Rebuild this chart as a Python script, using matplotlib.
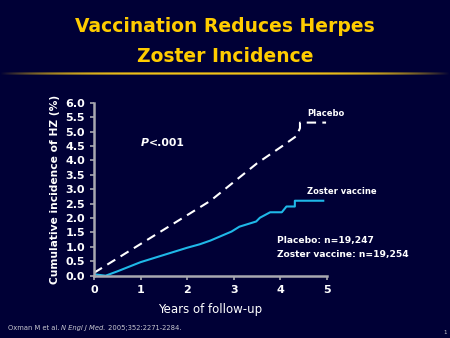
import numpy as np
import matplotlib
matplotlib.use('Agg')
import matplotlib.pyplot as plt

# Kaplan-Meier style cumulative incidence
placebo_years = [0, 0.5, 1, 1.5, 2, 2.5, 3, 3.5, 4, 4.35, 4.42, 4.42, 4.98]
placebo_pct = [0.1, 0.6, 1.1, 1.6, 2.1, 2.6, 3.25, 3.9, 4.45, 4.85, 5.12, 5.31, 5.31]

vaccine_years = [0, 0.25, 0.5, 1, 1.5, 2, 2.27, 2.5, 2.95, 3.12, 3.48, 3.56,
                 3.78, 4.03, 4.13, 4.31, 4.31, 4.92]
vaccine_pct = [0.05, 0.0, 0.15, 0.47, 0.72, 0.97, 1.09, 1.22, 1.53, 1.70, 1.88,
               2.01, 2.2, 2.2, 2.4, 2.4, 2.6, 2.6]

x_ticks = [0, 1, 2, 3, 4, 5]
y_ticks = [0.0, 0.5, 1.0, 1.5, 2.0, 2.5, 3.0, 3.5, 4.0, 4.5, 5.0, 5.5, 6.0]

bg = '#000036'
gold = '#ffcc00'
axis_gray = '#a8a8b0'
cyan = '#1fb8e8'

fig = plt.figure(figsize=(4.5, 3.38), dpi=100, facecolor=bg)

# title
fig.text(0.5, 1 - 27 / 338, 'Vaccination Reduces Herpes', ha='center', va='center',
         color=gold, fontsize=13.5, fontweight='bold', family='DejaVu Sans')
fig.text(0.5, 1 - 57 / 338, 'Zoster Incidence', ha='center', va='center',
         color=gold, fontsize=13.5, fontweight='bold', family='DejaVu Sans')

# gold divider fading to the edges
bar_ax = fig.add_axes([0, 1 - 75 / 338, 1, 3 / 338])
t = np.linspace(-1, 1, 450)
w = np.clip(1 - np.abs(t) ** 4, 0, 1)
bg_rgb = np.array(matplotlib.colors.to_rgb(bg))
gold_rgb = np.array(matplotlib.colors.to_rgb('#f5c518'))
row = bg_rgb[None, :] * (1 - w[:, None]) + gold_rgb[None, :] * w[:, None]
prof = np.array([0.6, 1.0, 0.6])
img = bg_rgb[None, None, :] * (1 - prof[:, None, None]) + row[None, :, :] * prof[:, None, None]
bar_ax.imshow(img, aspect='auto', interpolation='nearest')
bar_ax.axis('off')

ax = fig.add_axes([94 / 450, 1 - 275.7 / 338, 233 / 450, 173 / 338])
ax.set_facecolor(bg)

ax.plot(placebo_years, placebo_pct, color='white', lw=1.5, dashes=(4.5, 3))
ax.plot(vaccine_years, vaccine_pct, color=cyan, lw=1.5)

ax.set_xlim(0, 5)
ax.set_ylim(0, 6)
ax.set_xticks(x_ticks)
ax.set_yticks(y_ticks)
ax.set_yticklabels([f'{v:.1f}' for v in y_ticks])

for side in ['top', 'right']:
    ax.spines[side].set_visible(False)
for side in ['left', 'bottom']:
    ax.spines[side].set_color(axis_gray)
    ax.spines[side].set_linewidth(1.8)
ax.tick_params(colors=axis_gray, labelcolor='white', length=3, width=1.2,
               labelsize=8)
for lab in ax.get_xticklabels() + ax.get_yticklabels():
    lab.set_fontweight('bold')

ax.set_ylabel('Cumulative incidence of HZ (%)', color='white', fontsize=7.7,
              fontweight='bold', labelpad=4)
fig.text(210 / 450, 1 - 309 / 338, 'Years of follow-up', ha='center', va='center',
         color='white', fontsize=8.5)

# annotations
fig.text(307 / 450, 1 - 113 / 338, 'Placebo', color='white', fontsize=6,
         fontweight='bold', va='center')
fig.text(307 / 450, 1 - 192 / 338, 'Zoster vaccine', color='white', fontsize=6,
         fontweight='bold', va='center')
fig.text(277 / 450, 1 - 241 / 338, 'Placebo: n=19,247', color='white', fontsize=6.6,
         fontweight='bold', va='center')
fig.text(277 / 450, 1 - 254 / 338, 'Zoster vaccine: n=19,254', color='white',
         fontsize=6.6, fontweight='bold', va='center')

fig.canvas.draw()
renderer = fig.canvas.get_renderer()


def text_run(x_px, y_px, parts, **kw):
    x = x_px
    for s, style in parts:
        tx = fig.text(x / 450, 1 - y_px / 338, s, style=style, va='center', **kw)
        x += tx.get_window_extent(renderer).width


text_run(141, 143, [('P', 'italic'), ('<.001', 'normal')], color='white',
         fontsize=7.8, fontweight='bold')
text_run(8, 328, [('Oxman M et al. ', 'normal'), ('N Engl J Med.', 'italic'),
                  (' 2005;352:2271-2284.', 'normal')], color='#c8c8d0', fontsize=4.9)
fig.text(443 / 450, 1 - 332 / 338, '1', color='#c8c8d0', fontsize=4, va='center')

fig.savefig('out.png', dpi=100, facecolor=bg)
